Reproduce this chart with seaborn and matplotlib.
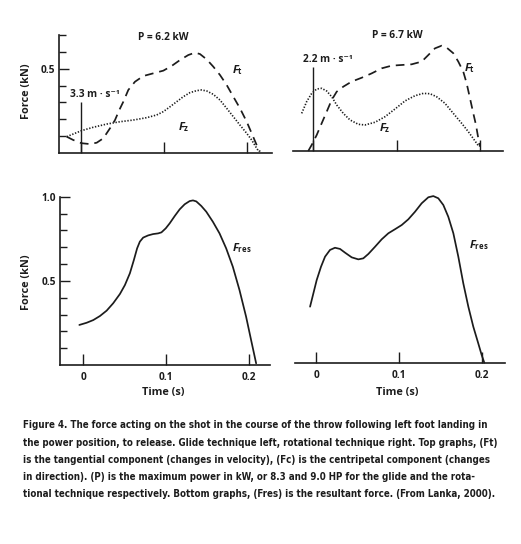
import os
import matplotlib
matplotlib.use("Agg")
import matplotlib.pyplot as plt
from matplotlib import font_manager as fm
import seaborn as sns

# ---------------- data ----------------
tick_times = [0.0, 0.1, 0.2]
tick_labels = ["0", "0.1", "0.2"]

# Glide (left) top: tangential Ft (dashed) and Fz (dotted)
glide_ft_t = [-0.0172, -0.0092, 0.0008, 0.0108, 0.0189, 0.0268, 0.0349, 0.0409, 0.0461, 0.0509,
              0.0569, 0.0649, 0.0749, 0.0869, 0.0990, 0.1090, 0.1190, 0.1290, 0.1370, 0.1430,
              0.1511, 0.1590, 0.1671, 0.1751, 0.1831, 0.1911, 0.1992, 0.2052, 0.2112, 0.2151]
glide_ft_f = [0.096, 0.076, 0.057, 0.052, 0.060, 0.086, 0.146, 0.195, 0.255, 0.304,
              0.374, 0.423, 0.457, 0.473, 0.489, 0.517, 0.552, 0.582, 0.596, 0.588,
              0.556, 0.513, 0.463, 0.404, 0.334, 0.265, 0.185, 0.116, 0.046, 0.007]
glide_fz_t = [-0.0172, -0.0092, 0.0008, 0.0148, 0.0309, 0.0469, 0.0629, 0.0789, 0.0909, 0.0990,
              0.1070, 0.1150, 0.1230, 0.1310, 0.1390, 0.1450, 0.1511, 0.1590, 0.1671, 0.1751,
              0.1831, 0.1911, 0.1992, 0.2052, 0.2112, 0.2139]
glide_fz_f = [0.096, 0.112, 0.132, 0.152, 0.171, 0.185, 0.195, 0.209, 0.225, 0.245,
              0.274, 0.304, 0.334, 0.358, 0.370, 0.374, 0.368, 0.348, 0.314, 0.265,
              0.215, 0.165, 0.116, 0.076, 0.027, 0.007]
glide_vel_t = 0.0
glide_vel_f = 0.304

# Rotational (right) top
rot_ft_t = [-0.0060, -0.0019, 0.0041, 0.0101, 0.0161, 0.0221, 0.0281, 0.0360, 0.0460, 0.0580,
            0.0700, 0.0820, 0.0940, 0.1060, 0.1180, 0.1300, 0.1379, 0.1459, 0.1540, 0.1600,
            0.1679, 0.1739, 0.1799, 0.1839, 0.1879, 0.1919, 0.1951, 0.1979, 0.1999]
rot_ft_f = [0.0, 0.036, 0.095, 0.165, 0.234, 0.304, 0.353, 0.383, 0.413, 0.436,
            0.462, 0.492, 0.508, 0.512, 0.516, 0.532, 0.571, 0.611, 0.627, 0.615,
            0.582, 0.532, 0.472, 0.403, 0.314, 0.224, 0.155, 0.075, 0.026]
rot_fz_t = [-0.0139, -0.0079, -0.0019, 0.0041, 0.0101, 0.0161, 0.0221, 0.0281, 0.0360, 0.0440,
            0.0540, 0.0620, 0.0740, 0.0860, 0.0980, 0.1100, 0.1219, 0.1319, 0.1399, 0.1479,
            0.1579, 0.1679, 0.1779, 0.1859, 0.1939, 0.1987]
rot_fz_f = [0.224, 0.294, 0.343, 0.369, 0.373, 0.357, 0.323, 0.274, 0.224, 0.185,
            0.159, 0.155, 0.171, 0.204, 0.250, 0.298, 0.329, 0.343, 0.341, 0.323,
            0.284, 0.224, 0.165, 0.115, 0.060, 0.026]
rot_vel_t = 0.0
rot_vel_f = 0.502

# Bottom: resultant force
glide_res_t = [-0.0048, 0.0040, 0.0120, 0.0200, 0.0281, 0.0360, 0.0441, 0.0501, 0.0561, 0.0609,
               0.0648, 0.0681, 0.0721, 0.0781, 0.0841, 0.0901, 0.0941, 0.0993, 0.1041, 0.1101,
               0.1161, 0.1221, 0.1281, 0.1321, 0.1361, 0.1421, 0.1481, 0.1561, 0.1641, 0.1721,
               0.1801, 0.1881, 0.1961, 0.2021, 0.2082]
glide_res_f = [0.238, 0.251, 0.267, 0.291, 0.323, 0.367, 0.422, 0.475, 0.545, 0.624,
               0.693, 0.733, 0.757, 0.770, 0.778, 0.782, 0.788, 0.812, 0.842, 0.885,
               0.925, 0.955, 0.974, 0.978, 0.972, 0.945, 0.911, 0.851, 0.782, 0.693,
               0.584, 0.446, 0.287, 0.149, 0.010]
rot_res_t = [-0.0072, -0.0032, 0.0008, 0.0060, 0.0109, 0.0169, 0.0229, 0.0290, 0.0350, 0.0431,
             0.0511, 0.0571, 0.0632, 0.0713, 0.0793, 0.0874, 0.0954, 0.1035, 0.1115, 0.1196,
             0.1276, 0.1357, 0.1417, 0.1477, 0.1538, 0.1598, 0.1659, 0.1719, 0.1779, 0.1840,
             0.1900, 0.1960, 0.2001, 0.2033]
rot_res_f = [0.333, 0.412, 0.491, 0.570, 0.630, 0.670, 0.683, 0.676, 0.654, 0.626,
             0.614, 0.620, 0.646, 0.689, 0.733, 0.769, 0.793, 0.818, 0.852, 0.897,
             0.947, 0.983, 0.990, 0.977, 0.937, 0.867, 0.769, 0.630, 0.472, 0.333,
             0.214, 0.115, 0.046, 0.0]

caption_lines = [
    "Figure 4. The force acting on the shot in the course of the throw following left foot landing in",
    "the power position, to release. Glide technique left, rotational technique right. Top graphs, (Ft)",
    "is the tangential component (changes in velocity), (Fc) is the centripetal component (changes",
    "in direction). (P) is the maximum power in kW, or 8.3 and 9.0 HP for the glide and the rota-",
    "tional technique respectively. Bottom graphs, (Fres) is the resultant force. (From Lanka, 2000).",
]

# ---------------- style ----------------
sns.set_theme(style="white")
plt.rcParams["font.family"] = ["Open Sans", "DejaVu Sans"]
plt.rcParams["mathtext.fontset"] = "custom"
plt.rcParams["mathtext.it"] = "Open Sans:italic:bold"
plt.rcParams["mathtext.rm"] = "Open Sans:bold"
plt.rcParams["mathtext.bf"] = "Open Sans:bold"

INK = "#1c1c1c"
W, H = 521, 544
fig = plt.figure(figsize=(W / 100, H / 100), dpi=100)
fig.patch.set_facecolor("white")


def px_axes(x0, x1, y0, y1):
    return fig.add_axes([x0 / W, 1 - y1 / H, (x1 - x0) / W, (y1 - y0) / H])


def ftext(x, y, s, **kw):
    kw.setdefault("color", INK)
    kw.setdefault("fontweight", "bold")
    fig.text(x / W, 1 - y / H, s, **kw)


def style_axes(ax, left_spine, xlim, ylim, yminor, ymajor, ylabels, xlabels):
    ax.set_facecolor("none")
    ax.set_xlim(*xlim)
    ax.set_ylim(*ylim)
    for side in ["top", "right"]:
        ax.spines[side].set_visible(False)
    ax.spines["left"].set_visible(left_spine)
    for side in ["left", "bottom"]:
        ax.spines[side].set_color(INK)
        ax.spines[side].set_linewidth(1.2)
    ax.set_xticks(tick_times)
    ax.set_xticklabels(tick_labels if xlabels else [])
    ax.tick_params(axis="x", direction="in", length=8, width=1.0, color=INK,
                   labelsize=7.3, labelcolor=INK, pad=5, bottom=True)
    if left_spine:
        ax.set_yticks(ymajor)
        ax.set_yticklabels(ylabels)
        ax.set_yticks(yminor, minor=True)
        ax.tick_params(axis="y", which="major", direction="in", length=7.5, width=1.0,
                       color=INK, labelsize=7.3, labelcolor=INK, pad=3, left=True)
        ax.tick_params(axis="y", which="minor", direction="in", length=5, width=1.0,
                       color=INK, left=True)
    else:
        ax.set_yticks([])
    for lab in ax.get_xticklabels() + ax.get_yticklabels():
        lab.set_fontweight("bold")
    ax.set_xlabel("")
    ax.set_ylabel("")
    ax.grid(False)


DASH = (0, (5.0, 3.4))
DOT = (0, (0.8, 1.0))

# ---- top-left (glide) ----
ax_tl = px_axes(59, 272, 35.2, 152.8)
sns.lineplot(x=glide_ft_t, y=glide_ft_f, ax=ax_tl, color=INK, linewidth=1.25,
             linestyle=DASH, clip_on=False)
sns.lineplot(x=glide_fz_t, y=glide_fz_f, ax=ax_tl, color=INK, linewidth=1.2,
             linestyle=DOT, clip_on=False)
ax_tl.vlines(glide_vel_t, 0, glide_vel_f, color=INK, linewidth=1.0)
style_axes(ax_tl, True, (-0.0264, 0.2296), (0, 0.7),
           [0.1, 0.2, 0.3, 0.4, 0.6, 0.7], [0.5], ["0.5"], False)

# ---- top-right (rotational) ----
ax_tr = px_axes(293, 503, 33.4, 151)
sns.lineplot(x=rot_ft_t, y=rot_ft_f, ax=ax_tr, color=INK, linewidth=1.25,
             linestyle=DASH, clip_on=False)
sns.lineplot(x=rot_fz_t, y=rot_fz_f, ax=ax_tr, color=INK, linewidth=1.2,
             linestyle=DOT, clip_on=False)
ax_tr.vlines(rot_vel_t, 0, rot_vel_f, color=INK, linewidth=1.0)
style_axes(ax_tr, False, (-0.0243, 0.2275), (0, 0.7), [], [], [], False)

# ---- bottom-left (glide resultant) ----
ax_bl = px_axes(60, 270, 196.7, 365)
sns.lineplot(x=glide_res_t, y=glide_res_f, ax=ax_bl, color=INK, linewidth=1.25,
             clip_on=False)
style_axes(ax_bl, True, (-0.0281, 0.2249), (0, 1.0),
           [0.1, 0.2, 0.3, 0.4, 0.6, 0.7, 0.8, 0.9], [0.5, 1.0], ["0.5", "1.0"], True)

# ---- bottom-right (rotational resultant) ----
ax_br = px_axes(295, 505, 194.4, 362.7)
sns.lineplot(x=rot_res_t, y=rot_res_f, ax=ax_br, color=INK, linewidth=1.25,
             clip_on=False)
style_axes(ax_br, False, (-0.0254, 0.2283), (0, 1.0), [], [], [], True)

# ---- annotations ----
ftext(163, 37, "P = 6.2 kW", fontsize=7.3, ha="center", va="center")
ftext(70, 95, "3.3 m · s⁻¹", fontsize=7.3, ha="left", va="center")
ftext(238, 70, r"$F_{\mathrm{t}}$", fontsize=8, ha="center", va="center")
ftext(184, 127, r"$F_{\mathrm{z}}$", fontsize=8, ha="center", va="center")

ftext(397, 35, "P = 6.7 kW", fontsize=7.3, ha="center", va="center")
ftext(303, 60, "2.2 m · s⁻¹", fontsize=7.3, ha="left", va="center")
ftext(470, 68, r"$F_{\mathrm{t}}$", fontsize=8, ha="center", va="center")
ftext(385, 128, r"$F_{\mathrm{z}}$", fontsize=8, ha="center", va="center")

ftext(242, 248, r"$F_{\mathrm{res}}$", fontsize=8, ha="center", va="center")
ftext(479, 245, r"$F_{\mathrm{res}}$", fontsize=8, ha="center", va="center")

ftext(26, 91, "Force (kN)", fontsize=7.8, ha="center", va="center", rotation=90)
ftext(26, 282, "Force (kN)", fontsize=7.8, ha="center", va="center", rotation=90)
ftext(163, 392, "Time (s)", fontsize=7.8, ha="center", va="center")
ftext(397, 392, "Time (s)", fontsize=7.8, ha="center", va="center")


# ---- caption ----
def pick_caption_font():
    opts = [("Liberation Sans Narrow", "normal"), ("DejaVu Sans", "condensed"),
            ("Noto Sans", "condensed"), ("Roboto", "condensed"), ("Open Sans", "condensed")]
    for fam, st in opts:
        fp = fm.FontProperties(family=fam, stretch=st, weight="bold")
        try:
            path = fm.findfont(fp, fallback_to_default=False)
        except Exception:
            continue
        name = os.path.basename(path).lower()
        if "narrow" in name or "condensed" in name:
            return fp
    return fm.FontProperties(family="DejaVu Sans", weight="bold")


cap_fp = pick_caption_font()
cap_y = [425, 443, 460, 477, 494]
renderer = fig.canvas.get_renderer()
probe = fig.text(23 / W, 1 - cap_y[0] / H, caption_lines[0], fontproperties=cap_fp,
                 fontsize=8.0, color=INK, ha="left", va="center")
wpx = probe.get_window_extent(renderer).width
size = 8.0 * 467.0 / wpx
size = min(size, 8.6)
probe.remove()
for yy, line in zip(cap_y, caption_lines):
    t = fig.text(23 / W, 1 - yy / H, line, fontproperties=cap_fp, color=INK,
                 ha="left", va="center")
    t.set_fontsize(size)

fig.savefig("out.png", dpi=100, facecolor="white")
